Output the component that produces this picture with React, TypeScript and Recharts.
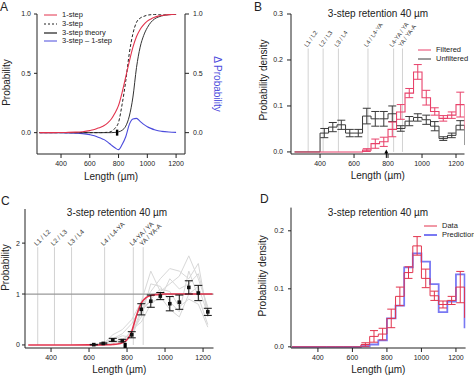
import React from 'react';
import {
  ComposedChart,
  Line,
  Scatter,
  XAxis,
  YAxis,
  ErrorBar,
  ReferenceLine,
  ReferenceDot,
  Legend,
  Label,
} from 'recharts';

const FONT = '"Liberation Sans", Arial, Helvetica, sans-serif';

// ---- shared ----
const X_TICKS = [400, 600, 800, 1000, 1200];
const THRESHOLD = 790;
const TITLE = '3-step retention 40 µm';

// stage boundaries (µm) and their labels
const BOUNDARY_X = [330, 418, 508, 682, 833, 885];
const BOUNDARY_LABELS = ['L1 / L2', 'L2 / L3', 'L3 / L4', 'L4 / L4-YA', 'L4-YA / YA', 'YA / YA-A'];

// ---- panel A: model curves ----
const LEN_A = [250, 300, 350, 400, 450, 500, 550, 600, 625, 650, 675, 700, 725, 750, 775, 800, 825, 850, 875, 900, 925, 950, 975, 1000, 1025, 1050, 1075, 1100, 1150, 1200];
const ONE_STEP = [0, 0, 0, 0.001, 0.002, 0.004, 0.008, 0.017, 0.024, 0.035, 0.046, 0.06, 0.083, 0.115, 0.165, 0.23, 0.34, 0.47, 0.6, 0.72, 0.81, 0.87, 0.91, 0.94, 0.958, 0.972, 0.982, 0.988, 0.995, 0.998];
const THREE_STEP = [0, 0, 0, 0, 0, 0, 0, 0, 0, 0, 0, 0.001, 0.003, 0.01, 0.037, 0.087, 0.24, 0.435, 0.67, 0.835, 0.93, 0.965, 0.98, 0.99, 0.994, 0.996, 0.998, 0.999, 1, 1];
const THEORY = [0, 0, 0, 0, 0, 0, 0, 0, 0, 0, 0, 0, 0, 0, 0.002, 0.007, 0.02, 0.055, 0.14, 0.3, 0.55, 0.72, 0.82, 0.885, 0.93, 0.958, 0.974, 0.984, 0.994, 0.998];
const DELTA = [0, 0, 0, -0.001, -0.002, -0.004, -0.008, -0.017, -0.024, -0.035, -0.046, -0.059, -0.08, -0.105, -0.128, -0.143, -0.1, -0.035, 0.07, 0.115, 0.12, 0.095, 0.07, 0.05, 0.036, 0.024, 0.016, 0.011, 0.005, 0.002];

// ---- panels B / D: histograms, 50 µm bins (left edges) ----
const BIN_EDGES = [400, 450, 500, 550, 600, 650, 700, 750, 800, 850, 900, 950, 1000, 1050, 1100, 1150, 1200];
const BIN_CENTERS = [425, 475, 525, 575, 625, 675, 725, 775, 825, 875, 925, 975, 1025, 1075, 1125, 1175, 1225];
const HIST_START = 250;
const HIST_END = 1250;
const UNFILTERED = [0.041, 0.054, 0.059, 0.041, 0.041, 0.078, 0.072, 0.072, 0.083, 0.051, 0.067, 0.075, 0.07, 0.056, 0.029, 0.036, 0.058];
const UNFILTERED_ERR = [0.01, 0.01, 0.01, 0.008, 0.008, 0.017, 0.016, 0.016, 0.017, 0.006, 0.01, 0.008, 0.01, 0.01, 0.004, 0.005, 0.01];
const UNFILTERED_TAIL = 0.015;
const FILTERED = [0, 0, 0, 0, 0, 0.004, 0.018, 0.022, 0.049, 0.087, 0.128, 0.174, 0.118, 0.088, 0.073, 0.08, 0.103];
const FILTERED_ERR = [0, 0, 0, 0, 0, 0.003, 0.01, 0.01, 0.016, 0.016, 0.01, 0.016, 0.016, 0.008, 0.006, 0.007, 0.027];
const FILTERED_TAIL = 0.05;
const PREDICTION = [0, 0, 0, 0, 0, 0.001, 0.004, 0.011, 0.049, 0.071, 0.137, 0.161, 0.147, 0.108, 0.06, 0.078, 0.125];
const PREDICTION_TAIL = 0.032;

// ---- panel C: retention probability ----
const C_CENTERS = [625, 675, 725, 775, 825, 875, 925, 975, 1025, 1075, 1125, 1175, 1225];
const RETENTION = [0.006, 0.03, 0.1, 0.085, 0.2, 0.7, 0.86, 0.96, 0.81, 0.84, 1.13, 1.02, 0.65];
const RETENTION_ERR = [0.005, 0.01, 0.03, 0.025, 0.06, 0.11, 0.12, 0.07, 0.14, 0.14, 0.13, 0.15, 0.07];
const TRACES = [
  [0, 0.02, 0.2, 0.3, 0.5, 0.85, 1.45, 1.05, 1.2, 1.35, 1.75, 1.3, 0.75],
  [0, 0.05, 0.12, 0.22, 0.42, 0.75, 1.05, 1.3, 1.5, 1.45, 1.3, 1.6, 0.55],
  [0, 0, 0.05, 0.1, 0.25, 0.55, 1.2, 1.15, 0.85, 0.65, 1.45, 0.95, 0.4],
  [0, 0.03, 0.08, 0.06, 0.3, 0.45, 0.8, 0.95, 0.7, 0.55, 1.0, 1.15, 0.6],
  [0, 0.01, 0.1, 0.18, 0.15, 0.65, 0.9, 1.1, 1.05, 0.75, 0.9, 0.8, 0.35],
  [0, 0, 0.03, 0.08, 0.2, 0.7, 0.85, 0.9, 1.3, 1.1, 1.2, 1.4, 0.7],
];
const FIT_X = [280, 400, 500, 600, 650, 700, 725, 750, 775, 800, 825, 850, 875, 900, 925, 950, 975, 1000, 1100, 1200, 1250];
const FIT_Y = [0, 0, 0, 0.001, 0.002, 0.005, 0.01, 0.02, 0.045, 0.1, 0.27, 0.58, 0.82, 0.93, 0.97, 0.988, 0.995, 1, 1, 1, 1];

// ---- colours ----
const RED = '#e2334d';
const PINK = '#e8416a';
const BLUE = '#4b4bdc';
const BLUE_LIGHT = '#6a6af2';
const DARK = '#3a3a3a';
const GRID = '#d2d2d2';
const INK = '#222';

const AX = { stroke: INK, strokeWidth: 1 };
const TICK = { fontSize: 7, fill: INK, fontFamily: FONT };

const stepData = (vals: number[], tail: number) => [
  { x: HIST_START, y: 0 },
  ...BIN_EDGES.map((x, i) => ({ x, y: vals[i] })),
  { x: HIST_END, y: tail },
];
const errData = (centers: number[], vals: number[], errs: number[]) =>
  centers.map((x, i) => ({ x, y: vals[i], e: errs[i] })).filter((d) => d.e > 0);

const xTitle = (text: string, dy: number) => ({ viewBox }: any) => (
  <text x={viewBox.x + viewBox.width / 2} y={viewBox.y + dy} textAnchor="middle" dominantBaseline="central" fontSize={10} fill={INK} fontFamily={FONT}>
    {text}
  </text>
);

const yTitle = (text: string, dx: number, dy: number, angle: number, color = INK) => ({ viewBox }: any) => {
  const cx = viewBox.x + dx;
  const cy = viewBox.y + viewBox.height / 2 + dy;
  return (
    <text x={cx} y={cy} transform={`rotate(${angle} ${cx} ${cy})`} textAnchor="middle" dominantBaseline="central" fontSize={10} fill={color} fontFamily={FONT}>
      {text}
    </text>
  );
};

const boundaryLabel = (text: string, angle: number, size: number) => ({ viewBox }: any) => {
  const x = viewBox.x - 1;
  const y = viewBox.y - 1;
  return (
    <text x={x} y={y} transform={`rotate(${angle} ${x} ${y})`} fontSize={size} fill="#333" fontFamily={FONT}>
      {text}
    </text>
  );
};

type LegendItem = { label: string; color: string; dash?: string; width?: number };
const legendContent = (items: LegendItem[]) => () => (
  <div style={{ fontFamily: FONT, fontSize: 7.5, color: INK }}>
    {items.map((it) => (
      <div key={it.label} style={{ display: 'flex', alignItems: 'center', height: 8.7, whiteSpace: 'nowrap' }}>
        <svg width={13} height={6} style={{ marginRight: 5 }}>
          <line x1={0} y1={3} x2={13} y2={3} stroke={it.color} strokeWidth={it.width ?? 1} strokeDasharray={it.dash} />
        </svg>
        <span style={{ lineHeight: '8px' }}>{it.label}</span>
      </div>
    ))}
  </div>
);

const noDot = () => <g />;

function Text({ x, y, size, children, center }: any) {
  return (
    <div
      style={{
        position: 'absolute',
        left: center ? x - 90 : x,
        top: y - size * 0.6,
        width: center ? 180 : undefined,
        textAlign: center ? 'center' : 'left',
        fontSize: size,
        lineHeight: `${size * 1.2}px`,
        fontFamily: FONT,
        color: INK,
        whiteSpace: 'nowrap',
      }}
    >
      {children}
    </div>
  );
}

function PanelA() {
  const rows = LEN_A.map((x, i) => ({ x, one: ONE_STEP[i], three: THREE_STEP[i], theory: THEORY[i], delta: DELTA[i] }));
  return (
    <ComposedChart width={237} height={187} data={rows} margin={{ top: 14, right: 10, bottom: 5, left: 0 }}>
      <XAxis type="number" dataKey="x" domain={[233, 1262]} ticks={X_TICKS} allowDataOverflow height={28} tickSize={4} tickMargin={3} axisLine={AX} tickLine={AX} tick={TICK}>
        <Label content={xTitle('Length (µm)', 22)} />
      </XAxis>
      <YAxis yAxisId="p" domain={[-0.18, 1]} ticks={[0, 0.5, 1]} tickFormatter={(v: number) => v.toFixed(1)} allowDataOverflow width={37} tickSize={3} tickMargin={3} axisLine={AX} tickLine={AX} tick={TICK}>
        <Label content={yTitle('Probability', 6, -1.5, -90)} />
      </YAxis>
      <YAxis yAxisId="d" orientation="right" domain={[-0.18, 1]} ticks={[0, 0.5, 1]} tickFormatter={(v: number) => v.toFixed(1)} allowDataOverflow width={42} tickSize={4} tickMargin={4} axisLine={AX} tickLine={AX} tick={TICK}>
        <Label content={yTitle('Δ Probability', 32.5, 0, 90, BLUE)} />
      </YAxis>
      <Line yAxisId="d" type="monotone" dataKey="delta" stroke={BLUE} strokeWidth={1.1} dot={false} activeDot={false} isAnimationActive={false} />
      <Line yAxisId="p" type="monotone" dataKey="theory" stroke="#333" strokeWidth={1} dot={false} activeDot={false} isAnimationActive={false} />
      <Line yAxisId="p" type="monotone" dataKey="three" stroke="#222" strokeWidth={1} strokeDasharray="3 2" dot={false} activeDot={false} isAnimationActive={false} />
      <Line yAxisId="p" type="monotone" dataKey="one" stroke={RED} strokeWidth={1.1} dot={false} activeDot={false} isAnimationActive={false} />
      <ReferenceDot yAxisId="p" x={THRESHOLD} y={0} shape={(p: any) => <rect x={p.cx - 1.2} y={p.cy - 3} width={2.4} height={6} fill="#000" />} />
      <Legend
        layout="vertical"
        align="center"
        verticalAlign="middle"
        wrapperStyle={{ left: 44, top: 11, width: 'auto' }}
        content={legendContent([
          { label: '1-step', color: RED },
          { label: '3-step', color: '#222', dash: '2 2' },
          { label: '3-step theory', color: '#777', width: 2 },
          { label: '3-step – 1-step', color: BLUE },
        ])}
      />
    </ComposedChart>
  );
}

function PanelB() {
  return (
    <ComposedChart width={237} height={187} margin={{ top: 14, right: 9.5, bottom: 5, left: 0 }}>
      <XAxis type="number" dataKey="x" domain={[229, 1250]} ticks={X_TICKS} allowDataOverflow height={28} tickSize={4} tickMargin={3} axisLine={AX} tickLine={AX} tick={TICK}>
        <Label content={xTitle('Length (µm)', 21)} />
      </XAxis>
      <YAxis domain={[-0.0045, 0.3]} ticks={[0, 0.1, 0.2, 0.3]} tickFormatter={(v: number) => v.toFixed(1)} allowDataOverflow width={54} tickSize={4} tickMargin={4} axisLine={AX} tickLine={AX} tick={TICK}>
        <Label content={yTitle('Probability density', 26, -4, -90)} />
      </YAxis>
      {BOUNDARY_X.map((x, i) => (
        <ReferenceLine key={x} segment={[{ x, y: 0 }, { x, y: 0.225 }]} stroke={GRID} strokeWidth={1} label={boundaryLabel(BOUNDARY_LABELS[i], -55, 6)} />
      ))}
      <Line data={stepData(UNFILTERED, UNFILTERED_TAIL)} type="stepAfter" dataKey="y" stroke={DARK} strokeWidth={1} dot={false} activeDot={false} isAnimationActive={false} />
      <Line data={stepData(FILTERED, FILTERED_TAIL)} type="stepAfter" dataKey="y" stroke={PINK} strokeWidth={1.1} dot={false} activeDot={false} isAnimationActive={false} />
      <Scatter data={errData(BIN_CENTERS, UNFILTERED, UNFILTERED_ERR)} dataKey="y" shape={noDot} isAnimationActive={false}>
        <ErrorBar dataKey="e" direction="y" width={4} stroke={DARK} strokeWidth={1} isAnimationActive={false} />
      </Scatter>
      <Scatter data={errData(BIN_CENTERS, FILTERED, FILTERED_ERR)} dataKey="y" shape={noDot} isAnimationActive={false}>
        <ErrorBar dataKey="e" direction="y" width={4} stroke={PINK} strokeWidth={1} isAnimationActive={false} />
      </Scatter>
      <ReferenceDot
        x={THRESHOLD}
        y={0}
        shape={(p: any) => (
          <g>
            <line x1={p.cx} y1={p.cy} x2={p.cx} y2={p.cy + 6} stroke="#000" strokeWidth={1} />
            <polygon points={`${p.cx},${p.cy - 2.5} ${p.cx - 2},${p.cy + 1.5} ${p.cx + 2},${p.cy + 1.5}`} fill="#000" />
          </g>
        )}
      />
      <Legend
        layout="vertical"
        align="center"
        verticalAlign="middle"
        wrapperStyle={{ left: 181, top: 46, width: 'auto' }}
        content={legendContent([
          { label: 'Filtered', color: PINK },
          { label: 'Unfiltered', color: DARK },
        ])}
      />
    </ComposedChart>
  );
}

function PanelC() {
  const fit = FIT_X.map((x, i) => ({ x, y: FIT_Y[i] }));
  return (
    <ComposedChart width={237} height={188} margin={{ top: 22, right: 23.5, bottom: 5, left: 0 }}>
      <XAxis type="number" dataKey="x" domain={[263, 1255]} ticks={X_TICKS} allowDataOverflow height={22} tickSize={4} tickMargin={3} axisLine={AX} tickLine={AX} tick={TICK}>
        <Label content={xTitle('Length (µm)', 21.7)} />
      </XAxis>
      <YAxis domain={[-0.06, 2.67]} ticks={[0, 1, 2]} allowDataOverflow width={25} tickSize={3} tickMargin={2} axisLine={AX} tickLine={AX} tick={TICK}>
        <Label content={yTitle('Probability', 5, -11, -90)} />
      </YAxis>
      {BOUNDARY_X.map((x, i) => (
        <ReferenceLine key={x} segment={[{ x, y: 0 }, { x, y: 1.92 }]} stroke={GRID} strokeWidth={1} label={boundaryLabel(BOUNDARY_LABELS[i], -45, 6.5)} />
      ))}
      {TRACES.map((t, k) => (
        <Line key={k} data={C_CENTERS.map((x, i) => ({ x, y: t[i] }))} type="linear" dataKey="y" stroke="#d8d8d8" strokeWidth={1} dot={false} activeDot={false} isAnimationActive={false} />
      ))}
      <ReferenceLine y={1} stroke="#999" strokeWidth={1.2} />
      <Line data={fit} type="monotone" dataKey="y" stroke={RED} strokeWidth={1.6} dot={false} activeDot={false} isAnimationActive={false} />
      <Scatter
        data={errData(C_CENTERS, RETENTION, RETENTION_ERR)}
        dataKey="y"
        shape={(p: any) => <rect x={p.cx - 1.8} y={p.cy - 1.8} width={3.6} height={3.6} fill="#111" />}
        isAnimationActive={false}
      >
        <ErrorBar dataKey="e" direction="y" width={4} stroke="#111" strokeWidth={1} isAnimationActive={false} />
      </Scatter>
      <ReferenceDot x={THRESHOLD} y={0} shape={(p: any) => <rect x={p.cx - 1.6} y={p.cy - 2} width={3.2} height={5} fill="#000" />} />
    </ComposedChart>
  );
}

function PanelD() {
  return (
    <ComposedChart width={237} height={188} margin={{ top: 20.6, right: 8.4, bottom: 5, left: 0 }}>
      <XAxis type="number" dataKey="x" domain={[244, 1256]} ticks={X_TICKS} allowDataOverflow height={22} tickSize={4} tickMargin={3} axisLine={AX} tickLine={AX} tick={TICK}>
        <Label content={xTitle('Length (µm)', 21.7)} />
      </XAxis>
      <YAxis domain={[-0.002, 0.24]} ticks={[0, 0.1, 0.2]} tickFormatter={(v: number) => v.toFixed(1)} allowDataOverflow width={54} tickSize={3} tickMargin={4} axisLine={AX} tickLine={AX} tick={TICK}>
        <Label content={yTitle('Probability density', 26, -2, -90)} />
      </YAxis>
      <Line data={stepData(PREDICTION, PREDICTION_TAIL)} type="stepAfter" dataKey="y" stroke={BLUE_LIGHT} strokeWidth={1.8} strokeOpacity={0.9} dot={false} activeDot={false} isAnimationActive={false} />
      <Line data={stepData(FILTERED, FILTERED_TAIL)} type="stepAfter" dataKey="y" stroke={RED} strokeWidth={1} dot={false} activeDot={false} isAnimationActive={false} />
      <Scatter data={errData(BIN_CENTERS, FILTERED, FILTERED_ERR)} dataKey="y" shape={noDot} isAnimationActive={false}>
        <ErrorBar dataKey="e" direction="y" width={4} stroke={RED} strokeWidth={1} isAnimationActive={false} />
      </Scatter>
      <Legend
        layout="vertical"
        align="center"
        verticalAlign="middle"
        wrapperStyle={{ left: 187, top: 35, width: 'auto' }}
        content={legendContent([
          { label: 'Data', color: RED },
          { label: 'Prediction', color: BLUE_LIGHT, width: 1.8 },
        ])}
      />
    </ComposedChart>
  );
}

export default function App() {
  return (
    <div style={{ position: 'absolute', left: 0, top: 0, width: 474, height: 375, background: '#fff', overflow: 'hidden' }}>
      <div style={{ position: 'absolute', left: 0, top: 0 }}>
        <PanelA />
      </div>
      <div style={{ position: 'absolute', left: 237, top: 0 }}>
        <PanelB />
      </div>
      <div style={{ position: 'absolute', left: 0, top: 187 }}>
        <PanelC />
      </div>
      <div style={{ position: 'absolute', left: 237, top: 187 }}>
        <PanelD />
      </div>

      <Text x={0} y={7} size={12}>A</Text>
      <Text x={254} y={7} size={12}>B</Text>
      <Text x={1} y={201} size={12}>C</Text>
      <Text x={260} y={199} size={12}>D</Text>

      <Text x={378} y={14} size={10} center>{TITLE}</Text>
      <Text x={117} y={213} size={10} center>{TITLE}</Text>
      <Text x={378} y={213} size={10} center>{TITLE}</Text>
    </div>
  );
}
